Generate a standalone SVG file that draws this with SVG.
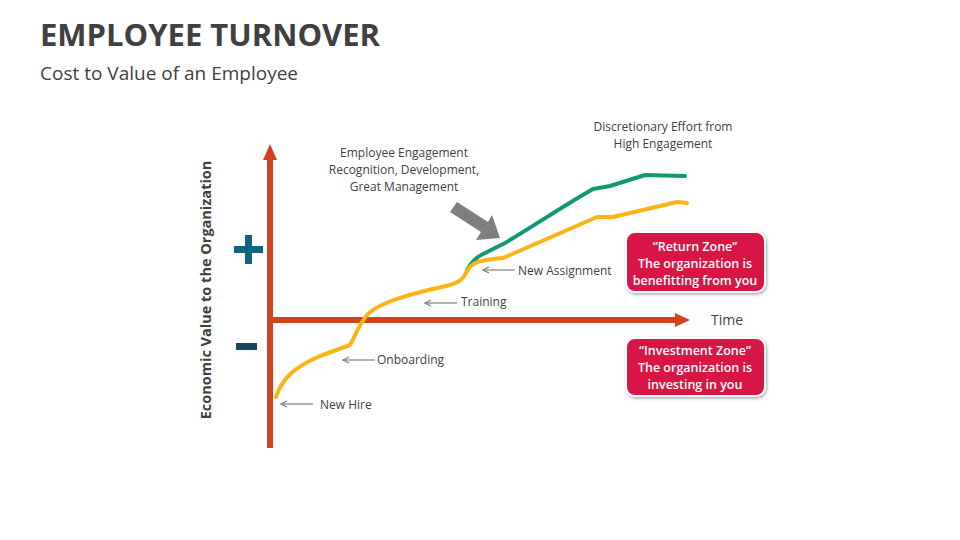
<svg xmlns="http://www.w3.org/2000/svg" width="960" height="540" viewBox="0 0 960 540">
<defs>
<marker id="sm" markerWidth="8" markerHeight="8" refX="7" refY="4" orient="auto" markerUnits="userSpaceOnUse"><path d="M1,1 L7,4 L1,7" fill="none" stroke="#7f7f7f" stroke-width="1.2"/></marker>
<filter id="sh" x="-10%" y="-10%" width="120%" height="130%"><feDropShadow dx="1" dy="1.5" stdDeviation="1.5" flood-opacity="0.35"/></filter>
</defs>
<style>
text{font-family:"Open Sans","Liberation Sans",sans-serif;fill:#404040}
.lb{font-size:12px}
.bx{fill:#d81645;stroke:#fff;stroke-width:2;filter:url(#sh)}
.bt{font-size:12.5px;fill:#fff;text-anchor:middle;font-weight:600}
.ax{fill:#d1431f}
.pt{stroke:#7f7f7f;stroke-width:1.2;marker-end:url(#sm)}
</style>
<rect width="960" height="540" fill="#fff"/>
<text x="40" y="46" font-size="31" font-weight="bold" fill="#404040">EMPLOYEE TURNOVER</text>
<text x="40" y="80" font-size="19">Cost to Value of an Employee</text>
<g id="axes">
<rect class="ax" x="267" y="158" width="6" height="290"/>
<polygon class="ax" points="263,160 270,144 277,160"/>
<rect class="ax" x="270" y="317" width="406" height="6"/>
<polygon class="ax" points="675,313 690,320 675,327"/>
<text x="711" y="325" font-size="14">Time</text>
<text transform="translate(211,290) rotate(-90)" font-size="14.5" font-weight="bold" text-anchor="middle">Economic Value to the Organization</text>
<rect x="234" y="246" width="29" height="7" fill="#0f6580"/>
<rect x="245" y="235" width="7" height="29" fill="#0f6580"/>
<rect x="236" y="343" width="21" height="7" fill="#0d4a5e"/>
</g>
<g id="curves" fill="none" stroke-linecap="round" stroke-linejoin="round">
<path d="M467,270 C472,262 476,257 485,253 L505,243 C535,225 565,205 593,189 L610,186 L645,175 L685,176" stroke="#0f9a75" stroke-width="4"/>
<path d="M276,397 C282,378 295,367 320,356 L350,345 C356,335 358,325 368,314 C380,302 410,294 450,285 C460,282 464,278 467,271 C472,262 480,260 503,258 L597,217 L613,217 L677,202 L687,203" stroke="#fbb416" stroke-width="4"/>
</g>
<g id="engagement">
<polygon points="450,212 457,202 488,222 492,215 500,238 476,240 481,232" fill="#7f7f7f"/>
<text class="lb" x="404" y="157" text-anchor="middle">Employee Engagement</text>
<text class="lb" x="404" y="174" text-anchor="middle">Recognition, Development,</text>
<text class="lb" x="404" y="191" text-anchor="middle">Great Management</text>
<text class="lb" x="663" y="131" text-anchor="middle">Discretionary Effort from</text>
<text class="lb" x="663" y="148" text-anchor="middle">High Engagement</text>
</g>
<g id="connectors">
<line class="pt" x1="313" y1="404" x2="281" y2="404"/>
<line class="pt" x1="375" y1="360" x2="343" y2="360"/>
<line class="pt" x1="457" y1="303" x2="425" y2="303"/>
<line class="pt" x1="515" y1="270" x2="483" y2="270"/>
</g>
<g id="labels">
<text class="lb" x="320" y="409">New Hire</text>
<text class="lb" x="377" y="364">Onboarding</text>
<text class="lb" x="461" y="306">Training</text>
<text class="lb" x="518" y="275">New Assignment</text>
</g>
<g id="returnZone">
<rect class="bx" x="626" y="232" width="139" height="60" rx="9"/>
<text class="bt" x="695" y="251">“Return Zone”</text>
<text class="bt" x="695" y="268">The organization is</text>
<text class="bt" x="695" y="285">benefitting from you</text>
</g>
<g id="investmentZone">
<rect class="bx" x="626" y="338" width="139" height="58" rx="9"/>
<text class="bt" x="695" y="355">“Investment Zone”</text>
<text class="bt" x="695" y="372">The organization is</text>
<text class="bt" x="695" y="389">investing in you</text>
</g>
</svg>
